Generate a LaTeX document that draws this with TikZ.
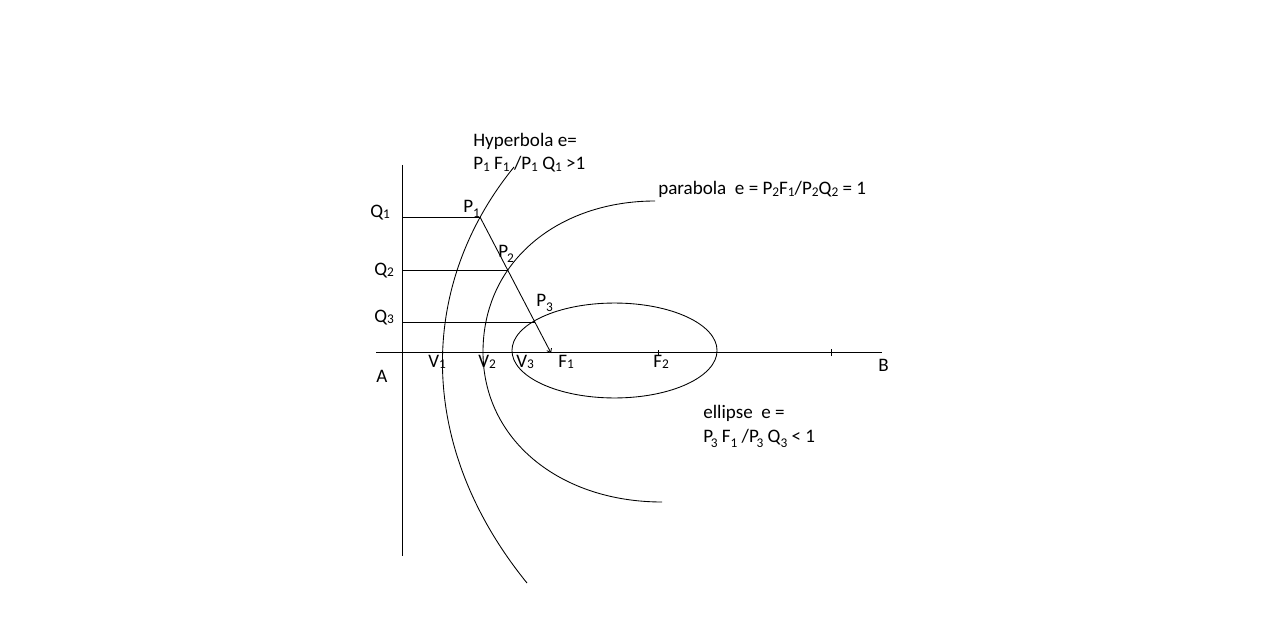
\documentclass[tikz,border=0pt]{standalone}
\usepackage{fontspec}
\setmainfont{Carlito}
\usetikzlibrary{arrows.meta}
\newcommand\lsub[1]{\raisebox{-0.08em}{\fontsize{10}{10}\selectfont #1}}
\newcommand\dsub[1]{\raisebox{-0.3em}{\fontsize{10}{10}\selectfont #1}}
\begin{document}
\begin{tikzpicture}[x=0.75pt,y=-0.75pt,
  ln/.style={line width=0.65pt,black},
  lbl/.style={font=\fontsize{14.3}{17}\selectfont,inner sep=0pt,anchor=base west}]
\useasboundingbox (0,0) rectangle (1274,624);
% coordinates
\coordinate (Atop) at (402,165);
\coordinate (Abot) at (402,556);
\coordinate (Hl) at (376,352);
\coordinate (Hr) at (882,352);
\coordinate (Q1p) at (402,217);
\coordinate (Q2p) at (402,270);
\coordinate (Q3p) at (402,322);
\coordinate (P1) at (480,217);
\coordinate (P2) at (507.7,270);
\coordinate (P3) at (534.8,322);
\coordinate (F1) at (551,353);
\coordinate (F2) at (658,352);
\coordinate (Tb) at (831,352);
% axes
\draw[ln] (Atop) -- (Abot);
\draw[ln] (Hl) -- (Hr);
\draw[ln] ([yshift=-2.2pt]F2) -- ([yshift=1.2pt]F2);
\draw[ln] ([yshift=-3pt]Tb) -- ([yshift=2pt]Tb);
% horizontal lines
\draw[ln] (Q1p) -- (P1);
\draw[ln] (Q2p) -- (P2);
\draw[ln] (Q3p) -- (P3);
% focal line
\draw[ln,-{Straight Barb[length=2.5pt,width=4pt]}] (P1) -- (F1);
% hyperbola
\draw[ln] (514,167) .. controls (418,285) and (415,445) .. (527,583);
% parabola
\draw[ln] (655,201) .. controls (560,201) and (483,260) .. (483,352)
  .. controls (483,440) and (560,502) .. (662,502);
% ellipse
\draw[ln] (614.5,350.5) ellipse [x radius=76.9pt, y radius=35.6pt];
% labels
\node[lbl] (hyp1) at (473,147) {Hyperbola e=};
\node[lbl] (hyp2) at (473,170) {P\lsub1 F\lsub1 /P\lsub1 Q\lsub1 >1};
\node[lbl] (par) at (658,195) {parabola\ \ e = P\lsub2F\lsub1/P\lsub2Q\lsub2 = 1};
\node[lbl] (ell1) at (703,418) {ellipse\ \ e =};
\node[lbl] (ell2) at (703,442) {P\kern-0.12em\dsub3\ F\dsub1 /P\kern-0.12em\dsub3\ Q\dsub3 < 1};
\node[lbl] (lQ1) at (370,217) {Q\lsub1};
\node[lbl] (lQ2) at (374,275) {Q\lsub2};
\node[lbl] (lQ3) at (374,322) {Q\lsub3};
\node[lbl] (lP1) at (463,212) {P\dsub1};
\node[lbl] (lP2) at (498,257) {P\kern-0.05em\dsub2};
\node[lbl] (lP3) at (536,306) {P\dsub3};
\node[lbl] (lA) at (376,382) {A};
\node[lbl] (lB) at (878,371) {B};
\node[lbl] (lV1) at (428,367) {V\lsub1};
\node[lbl] (lV2) at (478,367) {V\lsub2};
\node[lbl] (lV3) at (516,367) {V\lsub3};
\node[lbl] (lF1) at (558,367) {F\lsub1};
\node[lbl] (lF2) at (653,367) {F\lsub2};
\end{tikzpicture}
\end{document}
